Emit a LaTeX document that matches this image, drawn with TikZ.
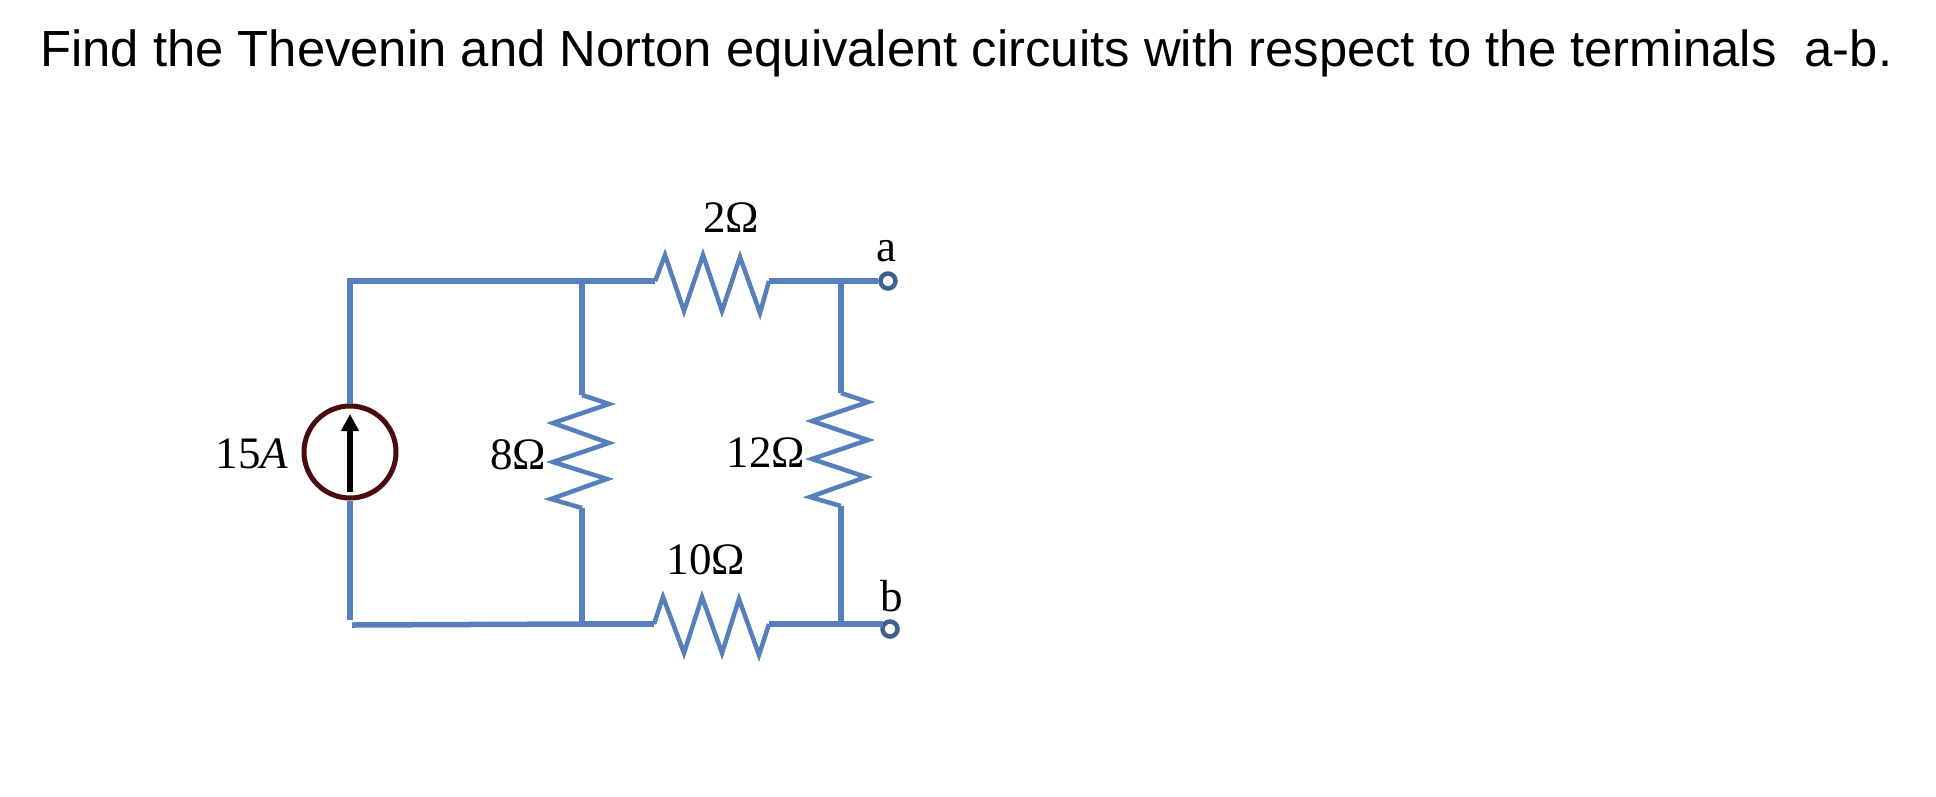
\documentclass[tikz,border=0pt]{standalone}
\usepackage{fontspec}
\setmainfont{Liberation Sans}
\newfontfamily\valfont{Liberation Serif}
\usetikzlibrary{arrows.meta}
\definecolor{wire}{HTML}{5580BB}
\definecolor{term}{HTML}{41608F}
\definecolor{srcring}{HTML}{4A0D0D}
\tikzset{
  wireline/.style={draw=wire,line width=5.5pt},
  zigline/.style={draw=wire,line width=4.5pt,line join=miter},
  val/.style={inner sep=0pt,font=\valfont\fontsize{45}{45}\selectfont},
  terminal/.style={circle,draw=term,fill=white,line width=4.5pt,minimum size=15pt,inner sep=0pt},
  source/.style={circle,draw=srcring,fill=white,line width=5pt,minimum size=92pt,inner sep=0pt}
}
\begin{document}
\begin{tikzpicture}[x=1pt,y=-1pt]
\path[use as bounding box,fill=white] (0,0) rectangle (1936,796);
\node[anchor=base west,inner sep=0pt,font=\fontsize{50.8}{51}\selectfont] (title) at (40,66) {Find the Thevenin and Norton equivalent circuits with respect to the terminals\ \ a-b.};
% corners and junctions
\coordinate (tl) at (350,281);
\coordinate (bl) at (350,620);
\coordinate (bl2) at (352,625);
\coordinate (j1) at (582,281);
\coordinate (j2) at (582,624);
\coordinate (j3t) at (841,278);
\coordinate (j4) at (841,624);
\coordinate (r2a) at (655,281);
\coordinate (r2b) at (769,281);
\coordinate (r8a) at (582,395);
\coordinate (r8b) at (582,508);
\coordinate (r12a) at (841,393);
\coordinate (r12b) at (841,506);
\coordinate (r10a) at (654,624);
\coordinate (r10b) at (769,624);
\coordinate (arb) at (350,492);
\coordinate (art) at (350,414);
% wires
\node[source] (src) at (350,452) {};
\node[terminal] (a) at (888,281) {};
\node[terminal] (b) at (890,629) {};
\draw[wireline] (src.north) -- (tl);
\draw[wireline] ([xshift=-2.75pt]tl) -- (r2a);
\draw[wireline] (src.south) -- (bl);
\draw[wireline] (bl2) -- (j2);
\draw[wireline] (j1) -- (r8a);
\draw[wireline] (r8b) -- (j2);
\draw[wireline] (j2) -- (r10a);
\draw[wireline] (r2b) -- (a.west);
\draw[wireline] (j3t) -- (r12a);
\draw[wireline] (r12b) -- (j4);
\draw[wireline] (r10b) -- (r10b -| b.north west);
% resistors
\draw[zigline] (r2a) -- (656,279) -- (665,255) -- (684,311) -- (703,255) -- (722,311) -- (740,257) -- (760,313) -- (r2b);
\draw[zigline] (r8a) -- (609,404) -- (553,423) -- (609,443) -- (553,462) -- (607,479) -- (551,499) -- (r8b);
\draw[zigline] (r12a) -- (868,402) -- (812,421) -- (868,440) -- (812,459) -- (866,477) -- (810,497) -- (r12b);
\draw[zigline] (r10a) -- (663,597) -- (684,653) -- (702,597) -- (722,653) -- (739,599) -- (759,655) -- (r10b);
% source arrow
\draw[line width=6pt,-{Triangle[length=17pt,width=17pt]}] (arb) -- (art);
% labels
\node[val] (l15) at (252,454) {15\textit{A}};
\node[val] (l8) at (518,455) {8Ω};
\node[val] (l2) at (731,218) {2Ω};
\node[val] (l12) at (766,453) {12Ω};
\node[val] (l10) at (706,560) {10Ω};
\node[val] (la) at (886,251) {a};
\node[val] (lb) at (892,596) {b};
\end{tikzpicture}
\end{document}
